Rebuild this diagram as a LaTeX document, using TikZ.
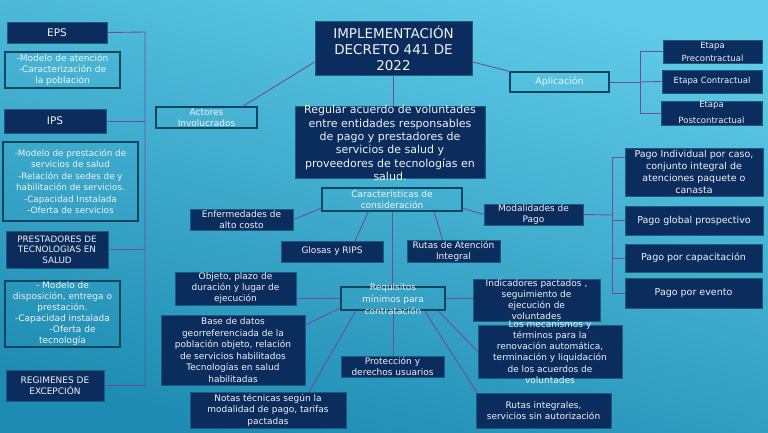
\documentclass[tikz,border=0pt]{standalone}
\usepackage{fontspec}
\setmainfont{DejaVu Sans}
\usepackage{tikz}

\definecolor{navy}{HTML}{0B2D5E}
\definecolor{navyedge}{HTML}{1C5A7E}
\definecolor{tealedge}{HTML}{0E4560}
\definecolor{linkpurple}{HTML}{714C9E}
\definecolor{boxtext}{HTML}{F2F2F2}
\definecolor{bgtop}{HTML}{5FCBE8}
\definecolor{bgbottom}{HTML}{1E8BB2}

\begin{document}
\begin{tikzpicture}[x=1pt,y=-1pt,
    sz/.style 2 args={minimum width=#1pt,minimum height=#2pt},
    dbox/.style={draw=navyedge,line width=0.6pt,fill=navy,text=boxtext,align=center,inner sep=0pt,font=\fontsize{9}{11}\selectfont},
    lbox/.style={draw=tealedge,line width=1.1pt,text=boxtext,align=center,inner sep=0pt,font=\fontsize{9}{11}\selectfont},
    txt/.style={text=boxtext,align=center,inner sep=0pt,font=\fontsize{9}{11}\selectfont},
    link/.style={draw=linkpurple,line width=0.9pt}]

    % background
    \fill[top color=bgtop,bottom color=bgbottom,shading angle=-15] (0,0) rectangle (768,433);
    \useasboundingbox (0,0) rectangle (768,433);

    % actors
    \node[dbox,sz={100}{21},font=\fontsize{10.5}{12}\selectfont] (eps) at (57,32.5) {EPS};
    \node[lbox,sz={115}{36}] (epsinfo) at (62.5,70) {-Modelo de atención\\-Caracterización de\\la población};
    \node[dbox,sz={102}{24},font=\fontsize{10.5}{12}\selectfont] (ips) at (55,121) {IPS};
    \node[lbox,sz={135}{79},font=\fontsize{8.8}{11.4}\selectfont] (ipsinfo) at (70.5,181.5) {-Modelo de prestación de\\servicios de salud\\-Relación de sedes de  y\\habilitación de servicios.\\-Capacidad Instalada\\-Oferta de servicios};
    \node[dbox,sz={102}{37},font=\fontsize{8.8}{10.5}\selectfont] (prest) at (57,249.5) {PRESTADORES DE\\TECNOLOGIAS EN\\SALUD};
    \node[lbox,sz={115}{66}] (prestinfo) at (62.5,314) {- Modelo de\\disposición, entrega o\\prestación.\\-Capacidad instalada\\\hspace*{20pt}-Oferta de\\tecnología};
    \node[dbox,sz={98}{31}] (regim) at (55,385.5) {REGIMENES DE\\EXCEPCIÓN};
    \node[lbox,sz={101}{21}] (actores) at (206.5,117.5) {Actores\\Involucrados};

    % centre
    \node[dbox,sz={157}{54},font=\fontsize{13.5}{16}\selectfont] (impl) at (393.5,48) {IMPLEMENTACIÓN\\DECRETO 441 DE\\2022};
    \node[dbox,sz={190}{72}] (goal) at (390,142) {};
    \node[lbox,sz={140}{23}] (caract) at (392,199.5) {Características de\\consideración};
    \node[lbox,sz={99}{20},font=\fontsize{9.4}{11}\selectfont] (aplic) at (559.5,82) {Aplicación};

    % stages
    \node[dbox,sz={99}{23}] (pre) at (712.5,51.5) {};
    \node[dbox,sz={100}{23},font=\fontsize{8.5}{10}\selectfont] (con) at (712,81.5) {Etapa Contractual};
    \node[dbox,sz={101}{24}] (post) at (711.5,113) {};

    % considerations
    \node[dbox,sz={103}{21}] (enf) at (241.5,219.5) {Enfermedades de\\alto costo};
    \node[dbox,sz={102}{21}] (glosas) at (332,251.5) {Glosas y RIPS};
    \node[dbox,sz={93}{22}] (rutasai) at (453.5,251) {Rutas de Atención\\Integral};
    \node[dbox,sz={99}{21}] (modal) at (533.5,214.5) {Modalidades de\\Pago};

    % payment
    \node[dbox,sz={138}{48},font=\fontsize{9.5}{11.7}\selectfont] (pind) at (694,172) {Pago Individual por caso,\\conjunto integral de\\atenciones paquete o\\canasta};
    \node[dbox,sz={138}{29},font=\fontsize{9.5}{11.7}\selectfont] (pglob) at (694,220.5) {Pago global prospectivo};
    \node[dbox,sz={137}{28},font=\fontsize{9.5}{11.7}\selectfont] (pcap) at (693.5,258) {Pago por capacitación};
    \node[dbox,sz={137}{30},font=\fontsize{9.5}{11.7}\selectfont] (pev) at (693.5,293) {Pago por evento};

    % requirements
    \node[lbox,sz={104}{23}] (req) at (393,298.5) {};
    \node[dbox,sz={121}{33}] (objeto) at (235.5,288.5) {Objeto, plazo de\\duración y lugar de\\ejecución};
    \node[dbox,sz={144}{70},font=\fontsize{9}{11.5}\selectfont] (basedatos) at (233,350) {Base de datos\\georreferenciada de la\\población objeto, relación\\de servicios habilitados\\Tecnologías en salud\\habilitadas};
    \node[dbox,sz={156}{36},font=\fontsize{9}{11.5}\selectfont] (notas) at (268,410) {Notas técnicas según la\\modalidad de pago, tarifas\\pactadas};
    \node[dbox,sz={103}{21}] (proteccion) at (392.5,366.5) {Protección y\\derechos usuarios};
    \node[dbox,sz={127}{42}] (indic) at (536.5,300) {};
    \node[dbox,sz={144}{53}] (mecan) at (550,351.5) {};
    \node[dbox,sz={135}{35}] (rutasint) at (543.5,410.5) {Rutas integrales,\\servicios sin autorización};

    % texts that run over their boxes
    \node[txt,font=\fontsize{11}{13.3}\selectfont] (goaltext) at (390,143) {Regular acuerdo de voluntades\\entre entidades responsables\\de pago y prestadores de\\servicios de salud  y\\proveedores de tecnologías en\\salud.};
    \node[txt,font=\fontsize{8.5}{10}\selectfont] (pretext) at (712.5,51.5) {Etapa\\[3pt]Precontractual};
    \node[txt,font=\fontsize{8.5}{10}\selectfont] (posttext) at (711.5,112) {Etapa\\[6pt]Postcontractual};
    \node[txt,font=\fontsize{9}{12}\selectfont] (reqtext) at (393,299) {Requisitos\\mínimos para\\contratación};
    \node[txt] (indictext) at (536.5,300) {Indicadores pactados ,\\seguimiento de\\ejecución de\\voluntades};
    \node[txt,font=\fontsize{9}{11.2}\selectfont] (mecantext) at (550,352) {Los mecanismos y\\términos para la\\renovación automática,\\terminación y liquidación\\de los acuerdos de\\voluntades};

    % actor links
    \coordinate (lbar) at (145,32);
    \draw[link] (eps.east) -- (lbar) -- (lbar |- regim.east) -- (regim.east);
    \draw[link] (ips.east) -- (lbar |- ips.east);
    \draw[link] (prest.east) -- (lbar |- prest.east);
    \draw[link] (actores.17) -- (impl.190);
    \draw[link] (impl.south) -- (impl.south |- goal.north);
    \draw[link] (impl.-10) -- (aplic.168);

    % stage links
    \coordinate (abar) at (640,82);
    \draw[link] (aplic.east) -- (abar);
    \draw[link] (pre.west) -| (abar |- post.west) -- (post.west);
    \draw[link] (abar) -- (con.west);

    % consideration links
    \draw[link] (caract.187) -- (enf.east);
    \draw[link] (caract.207) -- (glosas.25);
    \draw[link] (caract.-16) -- (rutasai.134);
    \draw[link] (caract.-7) -- (modal.west);
    \draw[link] (caract.south) -- (caract.south |- req.north);

    % payment links
    \coordinate (mbar) at (612,215);
    \draw[link] (modal.east) -- (mbar);
    \draw[link] (pind.168) -| (mbar |- pev.west) -- (pev.west);
    \draw[link] (mbar |- pglob.west) -- (pglob.west);
    \draw[link] (mbar |- pcap.west) -- (pcap.west);

    % requirement links
    \draw[link] (req.west) -- (req.west -| objeto.east);
    \draw[link] (req.190) -- (basedatos.19);
    \draw[link] (req.198) -- (notas.24);
    \draw[link] (req.south) -- (req.south |- proteccion.north);
    \draw[link] (req.east) -- (req.east -| indic.west);
    \draw[link] (req.-15) -- (mecan.west);
    \draw[link] (req.-21) -- (rutasint.165);
\end{tikzpicture}
\end{document}
